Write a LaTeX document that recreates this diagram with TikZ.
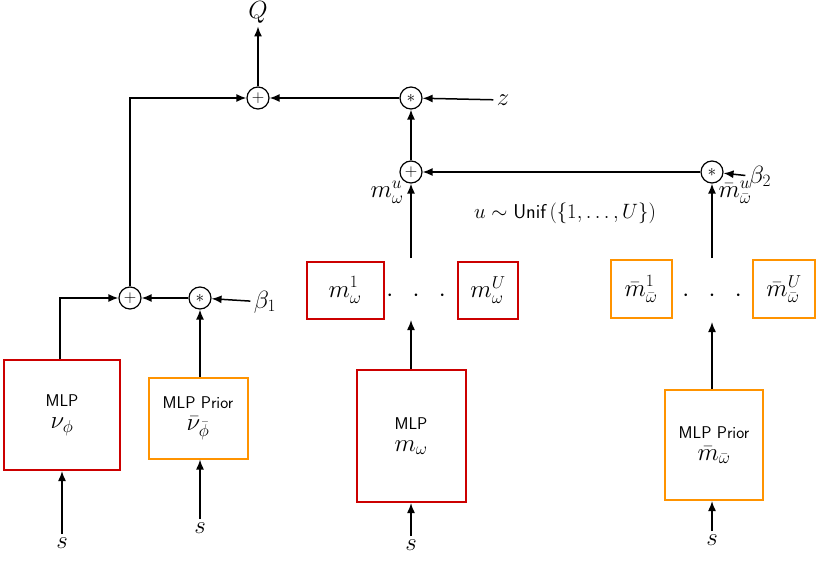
\documentclass[tikz,border=0pt]{standalone}
\usepackage{amsmath}
\usetikzlibrary{arrows.meta}
\begin{document}
\begin{tikzpicture}[x=1pt,y=-1pt,
 op/.style={draw,circle,line width=1.2pt,minimum size=22pt,inner sep=0pt,font=\fontsize{18}{18}\selectfont},
 redbox/.style={draw=red!80!black,line width=2pt},
 orbox/.style={draw=orange!85!yellow,line width=2pt},
 ln/.style={line width=1.5pt},
 ar/.style={ln,-{Latex[length=10pt,width=8pt]}},
 mt/.style={font=\fontsize{24}{24}\selectfont},
 st/.style={font=\fontsize{17}{20}\selectfont\sffamily,align=center}]
\useasboundingbox (0,0) rectangle (832,564);
% top
\node[op] (pT) at (258,98) {$+$};
\node[op] (sT) at (411,98) {$\ast$};
\node[mt] (Q) at (258,12) {$Q$};
\node[mt] (z) at (503,100) {$z$};
\node[op] (pM) at (411,172) {$+$};
\node[op] (sR) at (712,172) {$\ast$};
\node[mt] (b2) at (760,177) {$\beta_2$};
\draw[ar] (pT) -- (Q);
\draw[ar] (z) -- (sT);
\draw[ar] (sT) -- (pT);
\draw[ar] (pM) -- (sT);
\draw[ar] (sR) -- (pM);
\draw[ar] (b2) -- (sR);
\node[mt,anchor=east] at (407,192) {$m^u_\omega$};
\node[mt,anchor=west] at (715,192) {$\bar m^u_{\bar\omega}$};
\node[font=\fontsize{20}{20}\selectfont] at (565,213) {$u\sim\text{\sffamily Unif}\left(\{1,\dots,U\}\right)$};
% middle
\node[redbox,mt,minimum width=77pt,minimum height=57pt] (m1) at (345,290) {$m^1_\omega$};
\node[redbox,mt,minimum width=60pt,minimum height=57pt] (mU) at (488,290) {$m^U_\omega$};
\node[mt] at (416,296) {$\cdot\;\;\cdot\;\;\cdot$};
\coordinate (mtop) at (411,258);
\coordinate (mbot) at (411,320);
\draw[ar] (mtop) -- (pM);
\node[redbox,minimum width=109pt,minimum height=132pt,st] (M) at (411,436) {MLP\\[2pt]\fontsize{24}{24}\selectfont$m_\omega$};
\node[mt] (s3) at (411,545) {$s$};
\draw[ar] (s3) -- (M);
\draw[ar] (M) -- (mbot);
% right
\node[orbox,mt,minimum width=61pt,minimum height=58pt] (b1) at (641,289) {$\bar m^1_{\bar\omega}$};
\node[orbox,mt,minimum width=62pt,minimum height=58pt] (bU) at (784,289) {$\bar m^U_{\bar\omega}$};
\node[mt] at (712,296) {$\cdot\;\;\cdot\;\;\cdot$};
\coordinate (btop) at (712,258);
\coordinate (bbot) at (712,322);
\draw[ar] (btop) -- (sR);
\node[orbox,minimum width=98pt,minimum height=110pt,st] (P) at (714,445) {MLP Prior\\[2pt]\fontsize{24}{24}\selectfont$\bar m_{\bar\omega}$};
\node[mt] (s4) at (712,540) {$s$};
\draw[ar] (s4) -- (712,0 |- P.south);
\draw[ar] (712,0 |- P.north) -- (bbot);
% left
\node[op] (pL) at (130,298) {$+$};
\node[op] (sL) at (200,298) {$\ast$};
\node[mt] (b1l) at (265,302) {$\beta_1$};
\node[redbox,minimum width=116pt,minimum height=110pt,st] (N) at (62,415) {MLP\\[2pt]\fontsize{24}{24}\selectfont$\nu_\phi$};
\node[orbox,minimum width=99pt,minimum height=81pt,st] (NP) at (198,418) {MLP Prior\\[2pt]\fontsize{24}{24}\selectfont$\bar\nu_{\bar\phi}$};
\node[mt] (s1) at (62,543) {$s$};
\node[mt] (s2) at (200,528) {$s$};
\draw[ar] (s1) -- (62,0 |- N.south);
\draw[ar] (s2) -- (200,0 |- NP.south);
\draw[ar] (200,0 |- NP.north) -- (sL);
\draw[ar] (b1l) -- (sL);
\draw[ar] (sL) -- (pL);
\draw[ar] (60,0 |- N.north) |- (pL);
\draw[ar] (pL) |- (pT);
\end{tikzpicture}
\end{document}
